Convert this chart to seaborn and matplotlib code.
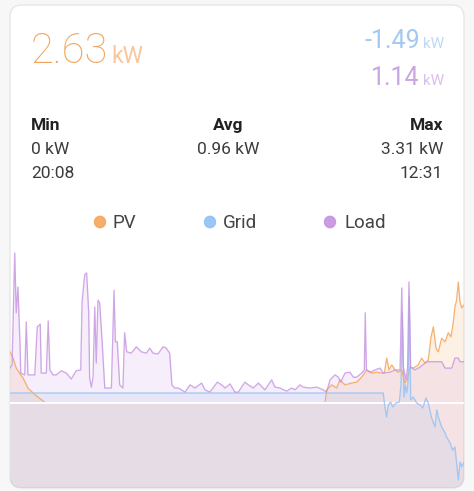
import numpy as np
import pandas as pd
import matplotlib
matplotlib.use("Agg")
import matplotlib.pyplot as plt
import seaborn as sns
from matplotlib.patches import FancyBboxPatch, Circle

# hours over the last 24h window, power in kW
load_h = [0.0, 0.11, 0.25, 0.33, 0.42, 0.53, 0.57, 0.78, 0.86, 0.95,
          1.31, 1.44, 1.60, 1.65, 1.92, 2.02, 2.11, 2.27, 2.45, 2.71,
          2.98, 3.24, 3.50, 3.74, 3.81, 3.95, 4.05, 4.16, 4.21, 4.30,
          4.39, 4.48, 4.56, 4.65, 4.74, 4.86, 5.01, 5.36, 5.50, 5.57,
          5.67, 5.80, 5.97, 6.06, 6.17, 6.41, 6.68, 6.94, 7.21, 7.39,
          7.56, 7.82, 8.09, 8.26, 8.44, 8.56, 8.71, 8.90, 9.25, 9.52,
          9.78, 10.13, 10.31, 10.57, 10.96, 11.19, 11.37, 11.63, 11.89, 12.07,
          12.42, 12.60, 12.86, 13.13, 13.48, 13.83, 14.01, 14.27, 14.63, 14.89,
          15.07, 15.33, 15.50, 15.86, 16.21, 16.56, 16.74, 16.92, 17.18, 17.36,
          17.48, 17.71, 17.97, 18.15, 18.33, 18.59, 18.73, 18.78, 18.84, 19.03,
          19.30, 19.56, 19.73, 20.09, 20.35, 20.62, 20.71, 20.79, 20.93, 21.02,
          21.09, 21.18, 21.41, 21.67, 22.03, 22.47, 22.82, 23.00, 23.35, 23.52,
          23.70, 23.79, 24.00]
load_kw = [0.77, 0.84, 3.31, 1.99, 2.56, 1.28, 0.66, 0.62, 1.79, 0.62,
           0.62, 1.68, 1.74, 0.66, 0.66, 1.81, 0.73, 0.62, 0.62, 0.71,
           0.66, 0.53, 0.71, 0.73, 2.23, 2.83, 2.87, 2.01, 0.55, 0.35,
           0.57, 2.12, 0.88, 2.27, 2.21, 1.43, 0.33, 0.33, 2.49, 1.35,
           1.35, 0.40, 0.33, 1.55, 1.13, 1.10, 1.24, 1.13, 1.10, 1.21,
           1.10, 1.08, 1.24, 1.21, 1.10, 0.40, 0.33, 0.33, 0.24, 0.40,
           0.33, 0.44, 0.29, 0.24, 0.46, 0.40, 0.33, 0.42, 0.24, 0.24,
           0.46, 0.40, 0.33, 0.44, 0.29, 0.51, 0.35, 0.33, 0.26, 0.33,
           0.29, 0.40, 0.35, 0.33, 0.35, 0.29, 0.24, 0.51, 0.62, 0.57,
           0.46, 0.66, 0.68, 0.57, 0.57, 0.66, 0.73, 1.99, 0.73, 0.68,
           0.73, 0.77, 0.66, 0.68, 0.73, 0.73, 2.54, 0.79, 0.51, 0.79,
           2.67, 0.79, 0.73, 0.79, 0.91, 0.91, 0.91, 0.77, 0.77, 0.99,
           0.99, 0.91, 0.91]

pv_h = [0.0, 0.16, 0.33, 0.51, 0.69, 0.95, 1.22, 1.48, 1.83, 1.90,
        16.65, 16.74, 17.01, 17.27, 17.44, 17.71, 18.06, 18.33, 18.59, 18.86,
        19.12, 19.38, 19.65, 19.79, 19.91, 20.04, 20.18, 20.35, 20.53, 20.71,
        20.88, 21.00, 21.15, 21.32, 21.58, 21.76, 21.94, 22.11, 22.26, 22.38,
        22.52, 22.64, 22.82, 23.00, 23.17, 23.31, 23.43, 23.52, 23.61, 23.70,
        23.79, 23.88, 24.00]
pv_kw = [1.13, 0.99, 0.77, 0.66, 0.55, 0.33, 0.22, 0.13, 0.02, 0.0,
         0.0, 0.29, 0.40, 0.33, 0.51, 0.40, 0.44, 0.46, 0.57, 0.73,
         0.66, 0.68, 0.66, 0.66, 0.99, 0.73, 0.84, 0.73, 0.68, 0.73,
         0.44, 0.51, 0.79, 0.77, 0.84, 0.99, 0.88, 0.95, 1.46, 1.68,
         1.21, 1.13, 1.43, 1.35, 1.55, 1.46, 1.77, 2.12, 2.27, 2.67,
         2.23, 2.10, 2.16]

grid_h = [0.0, 19.73, 19.82, 19.91, 20.00, 20.12, 20.23, 20.41, 20.58, 20.67,
          20.74, 20.83, 20.90, 20.97, 21.04, 21.11, 21.18, 21.32, 21.50, 21.67,
          21.82, 21.99, 22.11, 22.29, 22.47, 22.56, 22.64, 22.82, 23.00, 23.08,
          23.26, 23.40, 23.52, 23.61, 23.70, 23.79, 23.88, 24.00]
grid_kw = [0.22, 0.22, -0.09, -0.31, -0.04, 0.02, -0.09, 0.0, 0.02, 0.40,
           1.99, 0.13, 0.40, 0.22, 0.44, 2.34, 0.07, 0.13, 0.0, -0.04,
           -0.11, 0.11, 0.0, -0.33, -0.53, -0.15, -0.31, -0.53, -0.66, -0.75,
           -0.88, -1.04, -0.97, -1.32, -1.70, -1.30, -1.41, -1.30]

series = ["PV", "Grid", "Load"]
colors = {"PV": "#f5a65b", "Grid": "#8fc1f5", "Load": "#c592e0"}
state_colors = {"PV": "#f3a358", "Grid": "#a2c9f1", "Load": "#caa5e4"}

sns.set_style("white")
plt.rcParams["font.family"] = ["Roboto", "DejaVu Sans"]

W, H = 474, 491
fig = plt.figure(figsize=(W / 100, H / 100), dpi=100)
fig.patch.set_facecolor("#f7f7f7")


def px(x, y):
    return x / W, 1 - y / H


def card_shape():
    return FancyBboxPatch((0.10, 0.03), 4.54, 4.83,
                          boxstyle="round,pad=0,rounding_size=0.12",
                          transform=fig.dpi_scale_trans)


card = card_shape()
card.set_facecolor("white")
card.set_edgecolor("#e2e2e2")
card.set_linewidth(0.8)
card.set_zorder(-5)
fig.patches.append(card)

# header states
fig.text(*px(31, 63), "2.63", fontsize=30, color=state_colors["PV"], va="baseline", weight="light")
fig.text(*px(111, 63), "kW", fontsize=16.5, color=state_colors["PV"], alpha=0.6, va="baseline")
fig.text(*px(420, 48), "-1.49", fontsize=18, color=state_colors["Grid"], ha="right", va="baseline")
fig.text(*px(444, 48), "kW", fontsize=11, color=state_colors["Grid"], alpha=0.7, ha="right", va="baseline")
fig.text(*px(420, 85), "1.14", fontsize=18, color=state_colors["Load"], ha="right", va="baseline")
fig.text(*px(444, 85), "kW", fontsize=11, color=state_colors["Load"], alpha=0.7, ha="right", va="baseline")

# min / avg / max
stats = [("Min", "0 kW", "20:08", 31, "left"),
         ("Avg", "0.96 kW", "", 228, "center"),
         ("Max", "3.31 kW", "12:31", 443, "right")]
for title, val, when, x, al in stats:
    fig.text(*px(x, 130), title, fontsize=12.5, weight="bold", color="#212121", ha=al, va="baseline")
    fig.text(*px(x, 154), val, fontsize=12.5, color="#3c3c3c", ha=al, va="baseline")
    if when:
        fig.text(*px(x, 178), when, fontsize=12.5, color="#3c3c3c", ha=al, va="baseline")

# legend
for name, dx, tx in zip(series, [100, 210, 330], [112, 223, 344]):
    fig.patches.append(Circle(px(dx, 222), 5.5 / W, transform=fig.transFigure,
                              color=colors[name], alpha=0.9))
    fig.text(*px(tx, 228), name, fontsize=13.5, color="#444444", va="baseline")

# graph
ax = fig.add_axes([10 / W, 3 / H, 454 / W, 240 / H])
ax.set_facecolor("none")
ymin, ymax = -1.876, 3.42

data = {
    "PV": pd.DataFrame({"hour": pv_h, "kW": pv_kw}),
    "Grid": pd.DataFrame({"hour": grid_h, "kW": grid_kw}),
    "Load": pd.DataFrame({"hour": load_h, "kW": load_kw}),
}

for name in series:
    df = data[name]
    ax.fill_between(df["hour"], df["kW"], ymin, color=colors[name], alpha=0.15, lw=0, zorder=1)

sns.lineplot(data=data["PV"], x="hour", y="kW", ax=ax, color=colors["PV"], lw=0.95,
             alpha=0.85, estimator=None, sort=False, zorder=2)
ax.axhline(0, color="white", lw=1.4, zorder=2.5)
for name in ["Grid", "Load"]:
    sns.lineplot(data=data[name], x="hour", y="kW", ax=ax, color=colors[name], lw=0.95,
                 alpha=0.8, estimator=None, sort=False, zorder=3)

ax.set_xlim(0, 24)
ax.set_ylim(ymin, ymax)
ax.axis("off")

clip = card_shape()
for art in list(ax.lines) + list(ax.collections):
    art.set_clip_path(clip)

fig.savefig("out.png", dpi=100, facecolor=fig.get_facecolor())
